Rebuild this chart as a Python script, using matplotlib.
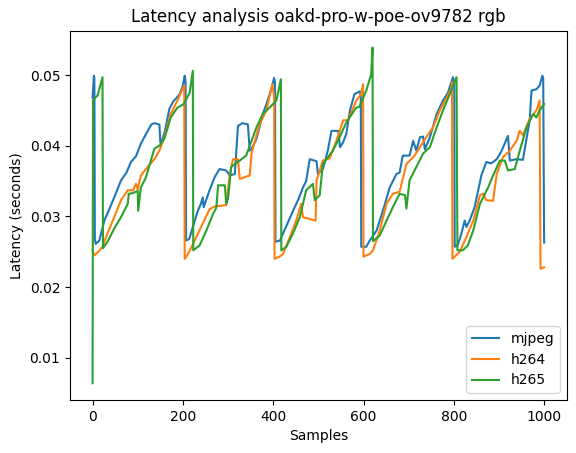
import matplotlib
matplotlib.use('Agg')
import matplotlib.pyplot as plt


# Waypoints (sample index, latency in seconds)
mjpeg_x = [0, 3, 4, 5, 7, 15, 26, 37, 48, 63, 75, 85, 96, 107, 122, 130, 137, 148, 150,
           152, 160, 170, 178, 193, 200, 204, 206, 207, 214, 222, 233, 240, 244, 246, 259,
           270, 281, 296, 304, 315, 322, 332, 344, 348, 352, 363, 377, 385, 396, 402, 404,
           405, 415, 422, 433, 444, 455, 466, 473, 481, 496, 499, 510, 521, 529, 544, 548,
           555, 562, 570, 580, 592, 594, 595, 606, 614, 629, 643, 658, 673, 680, 687, 702,
           710, 717, 725, 732, 736, 747, 762, 776, 787, 798, 801, 802, 809, 817, 824, 828,
           835, 846, 854, 861, 872, 883, 895, 906, 920, 924, 939, 953, 968, 972, 983, 990,
           996, 998, 1000]
mjpeg_y = [0.0468, 0.0499, 0.0495, 0.0268, 0.0261, 0.0266, 0.0294, 0.0310, 0.0327, 0.0351,
           0.0362, 0.0377, 0.0385, 0.0403, 0.0421, 0.0430, 0.0432, 0.0430, 0.0405, 0.0403,
           0.0420, 0.0452, 0.0462, 0.0473, 0.0485, 0.0499, 0.0490, 0.0266, 0.0268, 0.0285,
           0.0308, 0.0318, 0.0327, 0.0313, 0.0337, 0.0355, 0.0367, 0.0365, 0.0358, 0.0360,
           0.0428, 0.0432, 0.0430, 0.0393, 0.0395, 0.0410, 0.0445, 0.0459, 0.0480, 0.0496,
           0.0490, 0.0264, 0.0266, 0.0276, 0.0292, 0.0308, 0.0323, 0.0341, 0.0350, 0.0381,
           0.0378, 0.0360, 0.0367, 0.0393, 0.0421, 0.0421, 0.0398, 0.0405, 0.0417, 0.0450,
           0.0473, 0.0477, 0.0470, 0.0257, 0.0257, 0.0266, 0.0280, 0.0308, 0.0341, 0.0360,
           0.0362, 0.0386, 0.0386, 0.0407, 0.0393, 0.0412, 0.0413, 0.0395, 0.0412, 0.0445,
           0.0464, 0.0475, 0.0497, 0.0490, 0.0257, 0.0260, 0.0276, 0.0294, 0.0285, 0.0294,
           0.0313, 0.0337, 0.0358, 0.0377, 0.0375, 0.0381, 0.0393, 0.0414, 0.0379, 0.0381,
           0.0380, 0.0436, 0.0478, 0.0480, 0.0485, 0.0499, 0.0495, 0.0263]

h264_x = [0, 4, 10, 22, 33, 48, 63, 78, 90, 96, 100, 107, 122, 137, 148, 159, 173, 188,
          199, 203, 204, 214, 230, 244, 259, 270, 296, 304, 311, 322, 326, 348, 352, 370,
          385, 398, 402, 403, 414, 422, 437, 451, 462, 466, 494, 496, 510, 525, 540, 555,
          566, 584, 595, 599, 600, 614, 621, 636, 651, 665, 680, 695, 713, 739, 754, 769,
          784, 795, 796, 797, 813, 828, 843, 858, 865, 872, 887, 895, 909, 924, 939, 946,
          953, 968, 983, 990, 992, 1000]
h264_y = [0.0252, 0.0245, 0.0248, 0.0257, 0.0276, 0.0299, 0.0323, 0.0337, 0.0337, 0.0346,
          0.0338, 0.0358, 0.0370, 0.0381, 0.0393, 0.0412, 0.0445, 0.0464, 0.0480, 0.0485,
          0.0240, 0.0250, 0.0271, 0.0290, 0.0310, 0.0314, 0.0316, 0.0360, 0.0381, 0.0381,
          0.0353, 0.0358, 0.0389, 0.0431, 0.0450, 0.0487, 0.0470, 0.0240, 0.0243, 0.0247,
          0.0271, 0.0294, 0.0318, 0.0299, 0.0294, 0.0351, 0.0379, 0.0382, 0.0407, 0.0436,
          0.0436, 0.0464, 0.0473, 0.0487, 0.0243, 0.0247, 0.0252, 0.0280, 0.0318, 0.0332,
          0.0335, 0.0374, 0.0386, 0.0412, 0.0426, 0.0450, 0.0468, 0.0482, 0.0490, 0.0240,
          0.0250, 0.0271, 0.0294, 0.0330, 0.0332, 0.0323, 0.0322, 0.0360, 0.0384, 0.0393,
          0.0407, 0.0421, 0.0415, 0.0438, 0.0450, 0.0464, 0.0226, 0.0228]

h265_x = [0, 1, 11, 22, 23, 33, 48, 63, 78, 80, 89, 100, 101, 107, 118, 129, 137, 148,
          159, 173, 188, 202, 215, 222, 223, 237, 252, 267, 274, 278, 293, 296, 300, 307,
          326, 340, 363, 377, 392, 407, 417, 418, 429, 444, 459, 473, 488, 492, 503, 510,
          532, 547, 562, 584, 591, 606, 617, 620, 621, 636, 651, 665, 680, 692, 695, 702,
          717, 732, 747, 762, 776, 791, 806, 808, 820, 831, 843, 858, 876, 887, 902, 913,
          920, 935, 946, 961, 976, 983, 990, 1000]
h265_y = [0.0064, 0.0465, 0.0471, 0.0497, 0.0255, 0.0264, 0.0283, 0.0299, 0.0318, 0.0332,
          0.0333, 0.0336, 0.0308, 0.0341, 0.0355, 0.0379, 0.0396, 0.0400, 0.0410, 0.0440,
          0.0454, 0.0459, 0.0475, 0.0506, 0.0252, 0.0259, 0.0280, 0.0304, 0.0312, 0.0344,
          0.0344, 0.0318, 0.0325, 0.0370, 0.0379, 0.0386, 0.0426, 0.0445, 0.0454, 0.0464,
          0.0494, 0.0252, 0.0257, 0.0276, 0.0299, 0.0337, 0.0346, 0.0323, 0.0330, 0.0374,
          0.0393, 0.0412, 0.0433, 0.0454, 0.0455, 0.0478, 0.0501, 0.0539, 0.0265, 0.0273,
          0.0294, 0.0313, 0.0332, 0.0330, 0.0311, 0.0351, 0.0370, 0.0389, 0.0398, 0.0426,
          0.0450, 0.0473, 0.0497, 0.0252, 0.0252, 0.0259, 0.0280, 0.0318, 0.0341, 0.0358,
          0.0379, 0.0379, 0.0365, 0.0367, 0.0393, 0.0426, 0.0445, 0.0440, 0.0450, 0.0459]


fig = plt.figure(figsize=(5.76, 4.53), dpi=100)
ax = fig.add_axes([70 / 576, 53 / 453, 496.7 / 576, 369.3 / 453])

ax.plot(mjpeg_x, mjpeg_y, label='mjpeg')
ax.plot(h264_x, h264_y, label='h264')
ax.plot(h265_x, h265_y, label='h265')

ax.set_title('Latency analysis oakd-pro-w-poe-ov9782 rgb')
ax.set_xlabel('Samples')
ax.set_ylabel('Latency (seconds)')
ax.legend(loc='lower right')

fig.savefig('out.png', dpi=100)
